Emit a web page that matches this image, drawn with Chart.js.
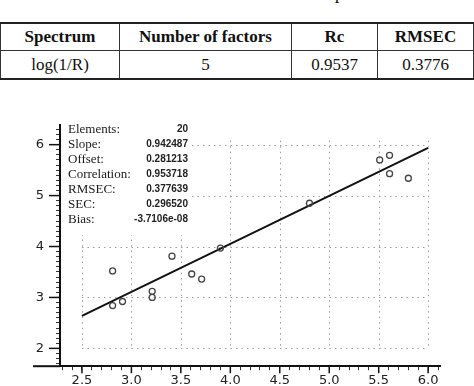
<!DOCTYPE html>
<html>
<head>
<meta charset="utf-8">
<script src="https://cdn.jsdelivr.net/npm/chart.js@4.4.0/dist/chart.umd.min.js"></script>
<style>
  body { margin: 0; width: 474px; height: 386px; background: #fff; position: relative; overflow: hidden; }
  .cap { position: absolute; top: -16px; left: 335px; font: 17px 'Liberation Serif', serif; }
  table { position: absolute; top: 22px; left: 0; width: 474px; border-collapse: collapse; font-family: 'Liberation Serif', serif; font-size: 17px; color: #111; }
  td, th { border-left: 1px solid #333; border-right: 1px solid #333; text-align: center; padding: 0; }
  th { height: 26px; font-weight: bold; border-top: 2px solid #222; border-bottom: 1px solid #333; }
  td { height: 27px; border-bottom: 2px solid #222; }
  #wrap { position: absolute; left: 0; top: 105px; width: 474px; height: 281px; }
  #stats { position: absolute; left: 62px; top: 121px; width: 126px; height: 114px; background: #fff; }
  #stats div { position: absolute; left: 6px; right: 0; height: 15px; }
  #stats .k { position: absolute; left: 0; font: 13px 'Liberation Serif', serif; color: #1a1a1a; }
  #stats .v { position: absolute; right: 0; top: 2px; font: bold 10px 'Liberation Sans', sans-serif; color: #222; }
</style>
</head>
<body>
<div class="cap">p</div>
<table>
  <tr><th style="width:118px">Spectrum</th><th style="width:171px">Number of factors</th><th style="width:85px">Rc</th><th>RMSEC</th></tr>
  <tr><td>log(1/R)</td><td>5</td><td>0.9537</td><td>0.3776</td></tr>
</table>
<div id="wrap"><canvas id="c"></canvas></div>
<div id="stats"></div>
<script>
const measured = [2.81, 2.81, 2.91, 3.21, 3.21, 3.41, 3.61, 3.71, 3.90, 4.80, 5.51, 5.61, 5.61, 5.80];
const predicted = [3.52, 2.84, 2.92, 3.12, 3.00, 3.81, 3.46, 3.36, 3.97, 4.85, 5.70, 5.79, 5.43, 5.34];
// fitted line endpoints (slope 0.942487, offset 0.281213)
const fitX = [2.5, 6.0];
const fitY = [2.637, 5.936];
const statLabels = ['Elements:', 'Slope:', 'Offset:', 'Correlation:', 'RMSEC:', 'SEC:', 'Bias:'];
const statValues = ['20', '0.942487', '0.281213', '0.953718', '0.377639', '0.296520', '-3.7106e-08'];
const xMajor = [2.5, 3.0, 3.5, 4.0, 4.5, 5.0, 5.5, 6.0];
const yMajor = [2, 3, 4, 5, 6];

const stats = document.getElementById('stats');
statLabels.forEach((l, i) => {
  const row = document.createElement('div');
  row.style.top = (0 + i * 15) + 'px';
  row.innerHTML = '<span class="k">' + l + '</span><span class="v">' + statValues[i] + '</span>';
  stats.appendChild(row);
});

const isMajor = (v, step) => Math.abs(v / step - Math.round(v / step)) < 1e-6;

const extras = {
  id: 'extras',
  beforeDatasetsDraw(chart) {
    const { ctx, scales: { x, y } } = chart;
    ctx.save();
    ctx.strokeStyle = '#9a9a9a';
    ctx.lineWidth = 1;
    ctx.setLineDash([1.5, 4]);
    xMajor.forEach(v => {
      const px = Math.round(x.getPixelForValue(v)) + 0.5;
      ctx.beginPath();
      ctx.moveTo(px, y.getPixelForValue(6) - 4);
      ctx.lineTo(px, y.getPixelForValue(2));
      ctx.stroke();
    });
    yMajor.forEach(v => {
      const py = Math.round(y.getPixelForValue(v)) + 0.5;
      ctx.beginPath();
      ctx.moveTo(x.getPixelForValue(2.5), py);
      ctx.lineTo(x.getPixelForValue(6.0), py);
      ctx.stroke();
    });
    ctx.restore();
  },
  afterDraw(chart) {
    const { ctx, scales: { x, y }, chartArea } = chart;
    ctx.save();
    ctx.strokeStyle = '#111';
    ctx.lineWidth = 1.5;
    xMajor.forEach(v => {
      const px = x.getPixelForValue(v);
      ctx.beginPath();
      ctx.moveTo(px, chartArea.bottom);
      ctx.lineTo(px, chartArea.bottom + 7);
      ctx.stroke();
    });
    yMajor.forEach(v => {
      const py = y.getPixelForValue(v);
      ctx.beginPath();
      ctx.moveTo(chartArea.left - 11, py);
      ctx.lineTo(chartArea.left, py);
      ctx.stroke();
    });
    // x axis line runs a little past the y axis
    ctx.lineWidth = 2;
    ctx.beginPath();
    ctx.moveTo(33, chartArea.bottom);
    ctx.lineTo(chartArea.left, chartArea.bottom);
    ctx.stroke();
    ctx.restore();
  }
};

new Chart(document.getElementById('c'), {
  type: 'scatter',
  data: {
    datasets: [
      {
        data: measured.map((v, i) => ({ x: v, y: predicted[i] })),
        pointStyle: 'circle',
        pointRadius: 3,
        pointBorderWidth: 1.3,
        pointBorderColor: '#444',
        pointBackgroundColor: 'rgba(0,0,0,0)',
      },
      {
        data: fitX.map((v, i) => ({ x: v, y: fitY[i] })),
        showLine: true,
        borderColor: '#111',
        borderWidth: 2,
        pointRadius: 0,
      },
    ],
  },
  options: {
    responsive: true,
    maintainAspectRatio: false,
    animation: false,
    layout: { padding: { top: 18, right: 34, left: 0, bottom: 0 } },
    plugins: { legend: { display: false }, tooltip: { enabled: false } },
    scales: {
      x: {
        type: 'linear',
        min: 2.278,
        max: 6.12,
        afterBuildTicks: (s) => {
          const t = [];
          for (let i = 23; i <= 61; i++) t.push({ value: i / 10 });
          s.ticks = t;
        },
        afterFit: (s) => { s.height = 19; },
        border: { display: true, color: '#111', width: 2 },
        grid: { drawOnChartArea: false, drawTicks: true, tickLength: 4, tickColor: '#333', tickWidth: 1 },
        ticks: {
          autoSkip: false,
          maxRotation: 0,
          padding: 3,
          color: '#222',
          font: { family: 'DejaVu Sans', size: 13 },
          callback: (v) => isMajor(v, 0.5) ? Number(v).toFixed(1) : '',
        },
      },
      y: {
        type: 'linear',
        min: 1.65,
        max: 6.39,
        afterBuildTicks: (s) => {
          const t = [];
          for (let i = 17; i <= 63; i++) t.push({ value: i / 10 });
          s.ticks = t;
        },
        afterFit: (s) => { s.width = 60; },
        border: { display: true, color: '#111', width: 2 },
        grid: { drawOnChartArea: false, drawTicks: true, tickLength: 4, tickColor: '#333', tickWidth: 1 },
        ticks: {
          autoSkip: false,
          padding: 12,
          color: '#222',
          font: { family: 'DejaVu Sans', size: 13 },
          callback: (v) => isMajor(v, 1) ? String(Math.round(v)) : '',
        },
      },
    },
  },
  plugins: [extras],
});
</script>
</body>
</html>
